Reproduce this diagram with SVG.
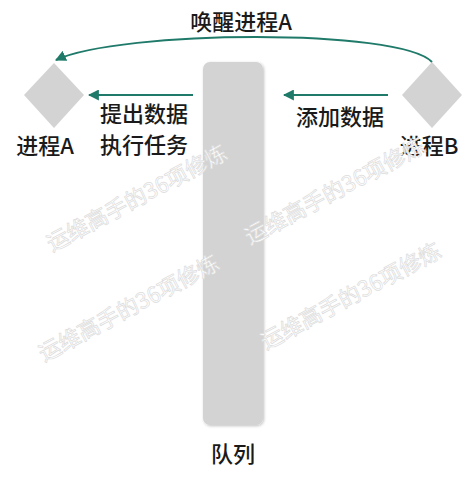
<svg xmlns="http://www.w3.org/2000/svg" width="474" height="483" viewBox="0 0 474 483">
<style>
.lbl{font-family:"Noto Sans CJK SC","Noto Sans",sans-serif;font-size:22px;font-weight:500;fill:#1a1a1a}
.conn{fill:none;stroke:#1f7a6a;stroke-width:2}
.dia{fill:#d3d3d3}
.wm{font-family:"Noto Sans CJK SC","Noto Sans",sans-serif;font-size:22px;fill:#ffffff;stroke:#dcdcdc;stroke-width:0.7}
</style>
<defs>
<marker id="ah" viewBox="0 0 10 10" refX="9" refY="5" markerWidth="5.5" markerHeight="5.5" orient="auto-start-reverse" markerUnits="strokeWidth">
<path d="M0,0 L10,5 L0,10 z" fill="#1f7a6a"/>
</marker>
<filter id="sh" x="-20%" y="-5%" width="140%" height="110%">
<feGaussianBlur in="SourceAlpha" stdDeviation="1.5"/>
<feOffset dx="1" dy="1"/>
<feComponentTransfer><feFuncA type="linear" slope="0.25"/></feComponentTransfer>
<feMerge><feMergeNode/><feMergeNode in="SourceGraphic"/></feMerge>
</filter>
</defs>
<rect width="474" height="483" fill="#ffffff"/>
<g id="queue">
<rect x="203" y="62" width="60" height="363" rx="7" fill="#d3d3d3" filter="url(#sh)"/>
<text class="lbl" x="233" y="462" text-anchor="middle">队列</text>
</g>
<g id="processA">
<polygon class="dia" points="54,63 84,95 54,128 24,95"/>
<text class="lbl" x="45" y="154" text-anchor="middle">进程A</text>
</g>
<g id="processB">
<polygon class="dia" points="432,62 462,95 432,128 402,95"/>
<text class="lbl" x="429" y="154" text-anchor="middle">进程B</text>
</g>
<g id="connectors">
<path class="conn" d="M432,62 C400,28 120,30 56,60" marker-end="url(#ah)"/>
<line class="conn" x1="193" y1="95" x2="89" y2="95" marker-end="url(#ah)"/>
<line class="conn" x1="388" y1="95" x2="284" y2="95" marker-end="url(#ah)"/>
<text class="lbl" x="241" y="30" text-anchor="middle">唤醒进程A</text>
<text class="lbl" x="144" y="122" text-anchor="middle">提出数据</text>
<text class="lbl" x="144" y="153" text-anchor="middle">执行任务</text>
<text class="lbl" x="340" y="125" text-anchor="middle">添加数据</text>
</g>
<g id="watermarks">
<text class="wm" transform="translate(52,252) rotate(-28)">运维高手的36项修炼</text>
<text class="wm" transform="translate(250,245) rotate(-28)">运维高手的36项修炼</text>
<text class="wm" transform="translate(44,362) rotate(-28)">运维高手的36项修炼</text>
<text class="wm" transform="translate(266,350) rotate(-28)">运维高手的36项修炼</text>
</g>
</svg>
